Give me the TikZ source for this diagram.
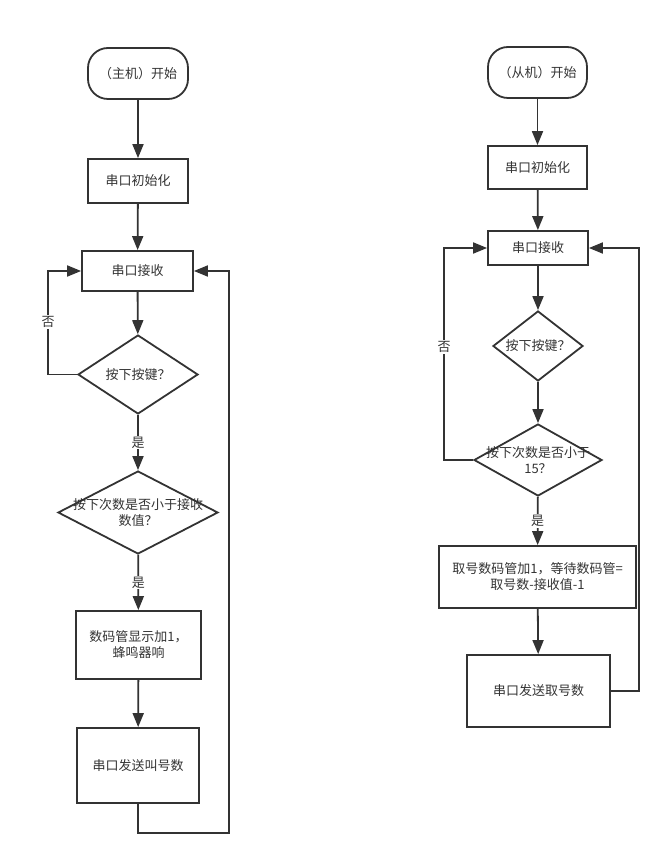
\documentclass[tikz,border=0pt]{standalone}
\usepackage{fontspec}
\setmainfont{Noto Sans CJK SC}
\usetikzlibrary{shapes.geometric,arrows.meta}
\definecolor{ink}{HTML}{333333}
\tikzset{
  x=1pt,y=-1pt,
  every node/.style={font=\fontsize{13pt}{16pt}\selectfont, text=ink},
  boxnode/.style={draw=ink, line width=1.8pt, rectangle, inner sep=0pt, align=center},
  termnode/.style={draw=ink, line width=1.8pt, rectangle, rounded corners=20pt, inner sep=0pt, align=center},
  decnode/.style={draw=ink, line width=1.8pt, diamond, inner sep=0pt},
  dectext/.style={align=center, inner sep=0pt},
  conn/.style={draw=ink, line width=1.8pt, -{Triangle[length=14pt,width=11pt]}},
  lbl/.style={fill=white, inner sep=1pt}
}
\begin{document}
\begin{tikzpicture}
\useasboundingbox (0,0) rectangle (670,866);
% ---------- left (master) ----------
\node[termnode, minimum width=100pt, minimum height=51pt] (ls) at (138,73.5) {（主机）开始};
\node[boxnode, minimum width=100pt, minimum height=44pt] (li) at (138,181) {串口初始化};
\node[boxnode, minimum width=111pt, minimum height=40pt] (lr) at (137.5,271) {串口接收};
\node[decnode, minimum width=120pt, minimum height=79pt] (ld1) at (138,374.5) {};
\node[dectext] (ld1t) at (ld1.center) {按下按键？};
\node[decnode, minimum width=160pt, minimum height=83pt] (ld2) at (138,512.5) {};
\node[dectext] (ld2t) at (ld2.center) {按下次数是否小于接收\\数值？};
\node[boxnode, minimum width=125pt, minimum height=68pt] (lb1) at (138.5,645) {数码管显示加1，\\蜂鸣器响};
\node[boxnode, minimum width=122pt, minimum height=75pt] (lb2) at (138,765.5) {串口发送叫号数};
\coordinate (lno) at (48,374.5);
\coordinate (lc1) at (229,833);

\draw[conn] (ls) -- (li);
\draw[conn] (li) -- (lr);
\draw[conn] (lr) -- (ld1);
\draw[conn] (ld1) -- (ld2) node[lbl, pos=0.5] (lyes1) {是};
\draw[conn] (ld2) -- (lb1) node[lbl, pos=0.5] (lyes2) {是};
\draw[conn] (lb1) -- (lb2);
\draw[conn] (ld1.west) -- (lno) |- (lr.west);
\node[lbl] (lno1) at (48,322) {否};
\draw[conn] (lb2.south) |- (lc1) |- (lr.east);

% ---------- right (slave) ----------
\node[termnode, minimum width=99pt, minimum height=51pt] (rs) at (537.5,72.5) {（从机）开始};
\node[boxnode, minimum width=99pt, minimum height=43pt] (ri) at (537.5,167.5) {串口初始化};
\node[boxnode, minimum width=100pt, minimum height=34pt] (rr) at (538,248) {串口接收};
\node[decnode, minimum width=90pt, minimum height=70pt] (rd1) at (538,346) {};
\node[dectext] (rd1t) at (rd1.center) {按下按键？};
\node[decnode, minimum width=128pt, minimum height=72pt] (rd2) at (538,460) {};
\node[dectext] (rd2t) at (rd2.center) {按下次数是否小于\\15？};
\node[boxnode, minimum width=197pt, minimum height=62pt] (rb1) at (537.5,577) {取号数码管加1，等待数码管=\\取号数-接收值-1};
\node[boxnode, minimum width=143pt, minimum height=72pt] (rb2) at (538.5,691) {串口发送取号数};
\coordinate (rno) at (444,460);
\coordinate (rc1) at (639,691);

\draw[conn] (rs) -- (ri);
\draw[conn] (ri) -- (rr);
\draw[conn] (rr) -- (rd1);
\draw[conn] (rd1) -- (rd2);
\draw[conn] (rd2) -- (rb1) node[lbl, pos=0.5] (ryes) {是};
\draw[conn] (rb1) -- (rb2);
\draw[conn] (rd2.west) -- (rno) |- (rr.west);
\node[lbl] (rno1) at (444,347) {否};
\draw[conn] (rb2.east) -- (rc1) |- (rr.east);
\end{tikzpicture}
\end{document}
